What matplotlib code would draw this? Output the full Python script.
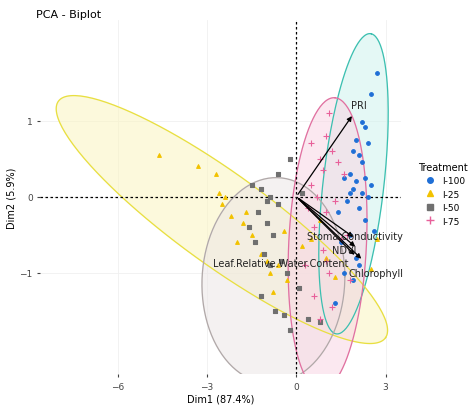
import numpy as np
import matplotlib.pyplot as plt
from matplotlib.lines import Line2D

groups = ["I-100", "I-25", "I-50", "I-75"]
colors = ["#1f6fd6", "#f2c200", "#707070", "#e8609a"]
edge = ["#3bbfb0", "#e8df40", "#b0a8a8", "#e070a0"]
fills = ["#cff3ee", "#fbf5c0", "#ece6e6", "#f9d6e4"]
markers = ["o", "^", "s", "+"]

x100 = [2.7, 2.5, 2.2, 2.3, 2.0, 1.9, 2.1, 2.4, 2.2, 1.8, 2.0, 2.3, 2.5, 1.6, 1.9, 2.2, 2.4, 1.7, 2.1, 2.3, 1.5, 1.8, 2.6, 2.0, 1.9, 1.3, 1.6, 2.1, 1.4, 1.8]
y100 = [1.63, 1.35, 0.98, 0.92, 0.75, 0.6, 0.55, 0.7, 0.45, 0.3, 0.2, 0.25, 0.15, 0.25, 0.1, 0.05, 0.0, -0.05, -0.15, -0.3, -0.6, -0.5, -0.45, -0.8, -1.1, -1.4, -1.0, -0.9, -0.2, 0.05]
x25 = [-4.6, -3.3, -2.6, -2.4, -2.5, -2.2, -1.8, -2.0, -1.5, -1.2, -1.0, -0.9, -0.6, -0.3, 0.2, 0.5, 0.8, 1.0, 2.7, 2.5, -2.7, -1.7, -0.4, -0.8, 1.3]
y25 = [0.55, 0.4, 0.05, 0.0, -0.1, -0.25, -0.35, -0.6, -0.5, -0.75, -0.85, -1.0, -0.9, -1.1, -0.65, -0.55, -0.3, -0.8, -0.55, -0.95, 0.3, -0.2, -0.45, -1.25, -1.05]
x50 = [-1.5, -1.2, -1.3, -1.0, -0.8, -0.6, -1.4, -1.1, -0.9, -0.5, -0.3, -1.6, -1.2, -0.7, -0.4, -0.2, 0.1, 0.4, 0.8, -0.9, -0.6, -1.0, 0.2, -0.2]
y50 = [0.15, 0.1, -0.2, -0.35, -0.5, -0.1, -0.6, -0.75, -0.9, -0.85, -1.0, -0.4, -1.3, -1.5, -1.55, -1.75, -1.2, -1.6, -1.65, 0.0, 0.3, -0.05, 0.05, 0.5]
x75 = [1.1, 1.0, 1.2, 0.9, 0.8, 1.4, 1.6, 0.5, 0.7, 1.3, 1.0, 0.4, 0.6, 1.5, 0.9, 1.7, 0.3, 1.1, 1.8, 0.6, 1.2, 0.8, 1.0, 0.5]
y75 = [1.1, 0.8, 0.6, 0.35, 0.5, 0.45, 0.3, 0.15, 0.0, -0.05, -0.2, -0.15, -0.4, -0.55, -0.7, -0.5, -0.9, -1.0, -1.1, -1.3, -1.45, -1.6, -0.85, 0.7]
xs = [x100, x25, x50, x75]
ys = [y100, y25, y50, y75]

# ellipses: center, semi-axis vector a, semi-axis vector b (data units)
ell_c = [(1.92, 0.17), (-2.5, -0.3), (-0.77, -1.1), (1.05, -0.62)]
ell_a = [(0.6, 1.97), (5.5, -1.55), (2.4, 0.05), (0.25, 1.92)]
ell_b = [(1.0, -0.1), (0.85, 0.5), (0.0, 1.35), (1.3, -0.05)]

var_names = ["PRI", "Stoma Conductivity", "NDVI", "Leaf.Relative.Water.Content", "Chlorophyll"]
var_x = [1.92, 1.99, 2.05, 2.02, 2.25]
var_y = [1.09, -0.55, -0.68, -0.79, -0.84]
lab_x = [2.1, 0.35, 1.2, -2.8, 1.75]
lab_y = [1.2, -0.52, -0.7, -0.87, -1.0]
lab_ha = ["center", "left", "left", "left", "left"]

fig = plt.figure(figsize=(4.74, 4.14), dpi=100)
ax = fig.add_axes([0.085, 0.094, 0.76, 0.855])
ax.set_facecolor("white")
ax.grid(True, color="#f0f0f0", lw=0.6)
ax.set_axisbelow(True)
t = np.linspace(0, 2 * np.pi, 200)
for i in range(4):
    cx, cy = ell_c[i]
    ex = cx + ell_a[i][0] * np.cos(t) + ell_b[i][0] * np.sin(t)
    ey = cy + ell_a[i][1] * np.cos(t) + ell_b[i][1] * np.sin(t)
    ax.fill(ex, ey, color=fills[i], alpha=0.55, zorder=1)
    ax.plot(ex, ey, color=edge[i], lw=0.9, zorder=2)
for i in range(4):
    ax.scatter(xs[i], ys[i], marker=markers[i], color=colors[i], s=7 if markers[i] != "+" else 22, lw=0.8, zorder=3)
ax.axhline(0, color="black", ls=(0, (2, 2)), lw=0.9, zorder=2)
ax.axvline(0, color="black", ls=(0, (2, 2)), lw=0.9, zorder=2)
for i in range(5):
    ax.annotate("", xy=(var_x[i], var_y[i]), xytext=(0, 0),
                arrowprops=dict(arrowstyle="-|>", color="black", lw=0.9, mutation_scale=7), zorder=4)
    ax.text(lab_x[i], lab_y[i], var_names[i], ha=lab_ha[i], va="center", fontsize=7, color="#222222", zorder=5)
ax.set_xlim(-8.6, 3.5)
ax.set_ylim(-2.33, 2.32)
ax.set_xticks([-6, -3, 0, 3])
ax.set_yticks([-1, 0, 1])
ax.tick_params(labelsize=6.5, length=2, colors="#444444")
for s in ax.spines.values():
    s.set_visible(False)
ax.set_xlabel("Dim1 (87.4%)", fontsize=7, labelpad=2)
ax.set_ylabel("Dim2 (5.9%)", fontsize=7, labelpad=2)
fig.text(0.075, 0.975, "PCA - Biplot", fontsize=8, va="top")
handles = [Line2D([], [], marker=markers[i], color=colors[i], ls="", markersize=4 if markers[i] != "+" else 6) for i in range(4)]
leg = fig.legend(handles, groups, title="Treatment", loc="center left", bbox_to_anchor=(0.865, 0.53),
                 fontsize=6.5, title_fontsize=7, frameon=False, handletextpad=0.4, labelspacing=0.5)
fig.savefig("out.png", dpi=100)
